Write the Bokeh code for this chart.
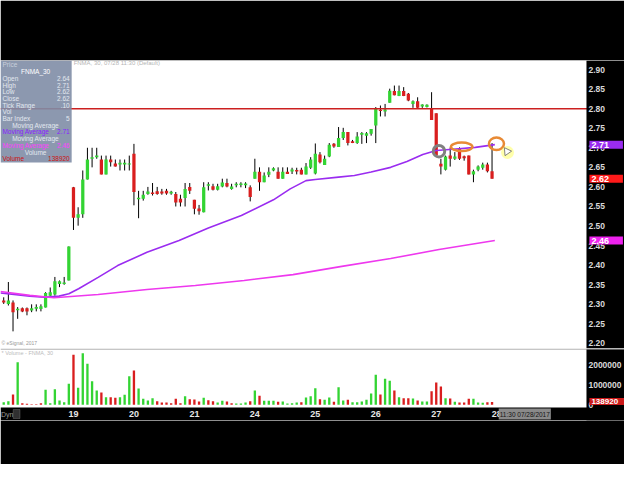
from bokeh.plotting import figure
from bokeh.layouts import column
from bokeh.models import Range1d, Span, Label, BoxAnnotation
from bokeh.embed import file_html
from bokeh.resources import INLINE

# ---------------- data (30-minute bars, FNMA) ----------------
bars = list(range(106))
opens = [2.310, 2.301, 2.305, 2.285, 2.290, 2.290, 2.284, 2.289, 2.288, 2.292,
         2.322, 2.325, 2.352, 2.352, 2.361, 2.599, 2.521, 2.530, 2.619, 2.672,
         2.677, 2.670, 2.632, 2.670, 2.660, 2.659, 2.659, 2.657, 2.685, 2.570,
         2.570, 2.582, 2.586, 2.589, 2.588, 2.590, 2.585, 2.582, 2.570, 2.572,
         2.600, 2.567, 2.545, 2.535, 2.603, 2.602, 2.593, 2.601, 2.610, 2.595,
         2.604, 2.605, 2.606, 2.599, 2.621, 2.639, 2.612, 2.631, 2.642, 2.639,
         2.621, 2.639, 2.641, 2.642, 2.644, 2.632, 2.649, 2.634, 2.683, 2.656,
         2.678, 2.710, 2.702, 2.725, 2.740, 2.715, 2.712, 2.735, 2.731, 2.736,
         2.757, 2.797, 2.794, 2.815, 2.845, 2.832, 2.845, 2.838, 2.812, 2.819,
         2.807, 2.804, 2.800, 2.788, 2.659, 2.644, 2.680, 2.672, 2.697, 2.677,
         2.680, 2.632, 2.644, 2.649, 2.657, 2.640]
highs = [2.318, 2.357, 2.310, 2.293, 2.292, 2.292, 2.300, 2.300, 2.300, 2.331,
         2.343, 2.370, 2.361, 2.370, 2.448, 2.600, 2.548, 2.642, 2.700, 2.700,
         2.700, 2.680, 2.680, 2.680, 2.670, 2.670, 2.670, 2.680, 2.710, 2.590,
         2.590, 2.600, 2.610, 2.600, 2.595, 2.595, 2.590, 2.587, 2.580, 2.610,
         2.610, 2.567, 2.554, 2.612, 2.612, 2.608, 2.608, 2.621, 2.621, 2.608,
         2.612, 2.612, 2.612, 2.604, 2.672, 2.650, 2.637, 2.650, 2.650, 2.650,
         2.650, 2.650, 2.649, 2.649, 2.649, 2.661, 2.676, 2.711, 2.689, 2.680,
         2.712, 2.712, 2.753, 2.751, 2.740, 2.720, 2.740, 2.740, 2.740, 2.748,
         2.804, 2.808, 2.812, 2.851, 2.859, 2.859, 2.855, 2.840, 2.821, 2.829,
         2.811, 2.811, 2.842, 2.788, 2.672, 2.680, 2.701, 2.689, 2.701, 2.680,
         2.680, 2.644, 2.655, 2.662, 2.662, 2.712]
lows = [2.301, 2.297, 2.231, 2.263, 2.280, 2.272, 2.280, 2.282, 2.282, 2.292,
        2.318, 2.322, 2.344, 2.350, 2.361, 2.490, 2.501, 2.521, 2.619, 2.650,
        2.672, 2.632, 2.632, 2.652, 2.652, 2.642, 2.642, 2.642, 2.553, 2.520,
        2.565, 2.580, 2.578, 2.580, 2.580, 2.580, 2.580, 2.550, 2.550, 2.550,
        2.582, 2.530, 2.529, 2.535, 2.591, 2.591, 2.591, 2.599, 2.599, 2.593,
        2.599, 2.599, 2.597, 2.563, 2.621, 2.590, 2.612, 2.625, 2.640, 2.621,
        2.621, 2.633, 2.633, 2.632, 2.632, 2.632, 2.646, 2.632, 2.660, 2.656,
        2.676, 2.700, 2.702, 2.720, 2.706, 2.712, 2.710, 2.710, 2.712, 2.731,
        2.712, 2.780, 2.780, 2.815, 2.834, 2.832, 2.832, 2.819, 2.802, 2.802,
        2.802, 2.803, 2.771, 2.678, 2.632, 2.642, 2.652, 2.669, 2.669, 2.667,
        2.632, 2.612, 2.640, 2.644, 2.637, 2.621]
closes = [2.305, 2.310, 2.280, 2.289, 2.282, 2.282, 2.290, 2.293, 2.295, 2.329,
          2.331, 2.359, 2.359, 2.356, 2.448, 2.521, 2.530, 2.619, 2.670, 2.676,
          2.679, 2.632, 2.670, 2.663, 2.652, 2.660, 2.660, 2.660, 2.587, 2.571,
          2.580, 2.588, 2.582, 2.582, 2.583, 2.583, 2.586, 2.560, 2.560, 2.595,
          2.590, 2.544, 2.538, 2.599, 2.607, 2.593, 2.602, 2.611, 2.601, 2.601,
          2.608, 2.609, 2.607, 2.574, 2.639, 2.612, 2.629, 2.639, 2.648, 2.621,
          2.639, 2.633, 2.643, 2.641, 2.632, 2.652, 2.670, 2.685, 2.663, 2.672,
          2.708, 2.703, 2.725, 2.740, 2.712, 2.714, 2.729, 2.736, 2.737, 2.748,
          2.800, 2.794, 2.796, 2.846, 2.834, 2.845, 2.832, 2.821, 2.819, 2.802,
          2.809, 2.810, 2.771, 2.680, 2.652, 2.678, 2.672, 2.678, 2.672, 2.675,
          2.632, 2.640, 2.652, 2.657, 2.640, 2.621]
volumes = [130000, 180000, 520000, 2130000, 80000, 50000, 30000, 30000, 80000, 750000,
           80000, 780000, 220000, 130000, 1050000, 2500000, 850000, 2580000, 2050000, 1180000,
           720000, 620000, 380000, 380000, 350000, 380000, 500000, 1430000, 1720000, 820000,
           300000, 220000, 330000, 180000, 120000, 120000, 80000, 300000, 80000, 430000,
           280000, 270000, 170000, 350000, 230000, 180000, 120000, 200000, 170000, 80000,
           70000, 70000, 120000, 180000, 720000, 450000, 200000, 200000, 200000, 150000,
           170000, 70000, 80000, 120000, 130000, 370000, 430000, 830000, 280000, 250000,
           370000, 150000, 880000, 220000, 250000, 130000, 130000, 170000, 250000, 570000,
           1500000, 520000, 1300000, 1200000, 720000, 380000, 330000, 330000, 320000, 220000,
           170000, 170000, 680000, 1120000, 920000, 330000, 320000, 150000, 120000, 120000,
           300000, 300000, 120000, 100000, 130000, 138920]
vol_up = [1, 1, 0, 1, 0, 0, 0, 0, 0, 1,
          1, 1, 1, 1, 1, 0, 1, 1, 1, 1,
          1, 0, 1, 0, 0, 1, 1, 1, 0, 1,
          1, 1, 1, 0, 0, 0, 0, 0, 0, 1,
          0, 0, 0, 1, 0, 0, 1, 1, 0, 0,
          1, 1, 1, 0, 1, 0, 1, 1, 1, 0,
          1, 1, 1, 1, 0, 1, 1, 1, 0, 1,
          1, 0, 1, 1, 0, 1, 1, 1, 1, 1,
          1, 0, 1, 1, 0, 1, 0, 0, 1, 0,
          1, 1, 0, 0, 0, 1, 0, 1, 0, 0,
          0, 1, 1, 1, 0, 0]

ma1_idx = [-0.7, 5.6, 8.7, 11.9, 14.0, 16.1, 20.3, 24.5, 30.8, 37.7, 44.0, 51.1, 58.0,
           61.6, 65.0, 67.0, 72.0, 75.4, 79.0, 83.2, 86.7, 90.1, 93.0, 97.2, 101.4, 105.6]
ma1_val = [2.329, 2.321, 2.318, 2.321, 2.327, 2.340, 2.369, 2.399, 2.433, 2.463, 2.495, 2.527, 2.567,
           2.595, 2.616, 2.619, 2.625, 2.629, 2.638, 2.650, 2.665, 2.683, 2.693, 2.697, 2.701, 2.708]
ma2_idx = [-0.7, 5.6, 10.8, 20.3, 30.8, 41.2, 51.7, 62.2, 72.7, 83.2, 93.6, 105.6]
ma2_val = [2.333, 2.323, 2.317, 2.325, 2.338, 2.348, 2.361, 2.376, 2.397, 2.417, 2.440, 2.463]

price_ticks = [2.20, 2.25, 2.30, 2.35, 2.40, 2.45, 2.50, 2.55, 2.60, 2.65, 2.70, 2.75, 2.80, 2.85, 2.90]
vol_ticks = [0, 1000000, 2000000]
day_ticks = [15, 28, 41, 54, 67, 80, 93, 106]
day_labels = ["19", "20", "21", "24", "25", "26", "27", "28"]
resistance = 2.80
bar_index_value = 5
tick_range_text = ".10"

FONT = "Liberation Sans"
GREEN = "#33d433"
RED = "#d91e1e"
PURPLE = "#9a2cf0"
MAGENTA = "#ee38ee"
AXIS_TXT = "#d9d9d9"

W = 624
SEP = 348          # reference row of the panel separator


# reference-pixel helpers (layout of annotations only)
def bx(px):
    return (px - 3.3) / 4.77


def py(px):
    return 2.90 - (px - 69) / 391.4


def pv(px):
    return (404.3 - px) / 20.0 * 1e6


x_range = Range1d(bx(0), bx(640))


def lab(fig, x, y, text, color, size="6.5px", align="left", bold=False, bg=None, pad=None):
    kw = dict(x=x, y=y, text=text, text_color=color, text_font=FONT, text_font_size=size,
              text_align=align, text_baseline="middle",
              text_font_style="bold" if bold else "normal")
    if bg is not None:
        kw["background_fill_color"] = bg
    if pad is not None:
        kw["padding"] = pad
    fig.add_layout(Label(**kw))


# ---------------- price panel ----------------
p = figure(width=W, height=SEP, x_range=x_range, y_range=Range1d(py(SEP), py(60)),
           output_backend="svg", toolbar_location=None,
           x_axis_location=None, y_axis_location=None,
           min_border_left=0, min_border_right=0, min_border_top=60, min_border_bottom=0,
           background_fill_color="white", border_fill_color="black")
p.outline_line_color = None
p.grid.visible = False

p.add_layout(Span(location=resistance, dimension="width", line_color="#cc2020", line_width=1.5))

body_top = [max(o, c) + 0.0015 if abs(o - c) < 0.003 else max(o, c) for o, c in zip(opens, closes)]
body_bot = [min(o, c) - 0.0015 if abs(o - c) < 0.003 else min(o, c) for o, c in zip(opens, closes)]
body_col = [GREEN if c >= o else RED for o, c in zip(opens, closes)]
p.segment(x0=bars, y0=lows, x1=bars, y1=highs, line_color="black", line_width=1)
p.vbar(x=bars, width=0.7, top=body_top, bottom=body_bot, fill_color=body_col, line_color=None)

p.line(ma1_idx, ma1_val, line_color=PURPLE, line_width=1.6)
p.line(ma2_idx, ma2_val, line_color=MAGENTA, line_width=1.6)

# hand-drawn marks
p.ellipse(x=[bx(449.7)], y=[py(150.7)], width=[11.5], height=[11.5],
          width_units="screen", height_units="screen",
          fill_color=None, line_color="#808080", line_width=3)
p.ellipse(x=[bx(473), bx(508.7)], y=[py(146.3), py(143.3)], width=[21.5, 15], height=[8.5, 12.5],
          width_units="screen", height_units="screen",
          fill_color=None, line_color="#e88a35", line_width=2.5)
p.scatter(x=[bx(520)], y=[py(152)], size=13, fill_color="#ffff88", fill_alpha=0.7, line_color=None)
p.scatter(x=[bx(519.5)], y=[py(151)], marker="triangle", size=8, angle=0.6,
          fill_color="white", line_color="#666666", line_width=0.8)

# black price-scale column on the right
p.add_layout(BoxAnnotation(left=bx(601), fill_color="black", fill_alpha=1.0, line_color=None))
for t in price_ticks:
    lab(p, bx(603), t, f"{t:.2f}", AXIS_TXT, size="8.5px", bold=True)

# data window box
p.add_layout(BoxAnnotation(left=bx(0), right=bx(73), top=py(60), bottom=py(162),
                           fill_color="#7f8da6", fill_alpha=0.9, line_color=None))

LT = "#e3e8f0"
lab(p, bx(2), py(63.5), "Price", "#c9d0dc")
lab(p, bx(36), py(71), "FNMA_30", "white", align="center")
rows = [("Open", f"{opens[-1]:.2f}", 78), ("High", f"{highs[-1]:.2f}", 84.5),
        ("Low", f"{lows[-1]:.2f}", 91), ("Close", f"{closes[-1]:.2f}", 98),
        ("Tick Range", tick_range_text, 104.5), ("Bar Index", str(bar_index_value), 118)]
for name, val, yy in rows:
    lab(p, bx(2), py(yy), name, LT)
    lab(p, bx(71), py(yy), val, LT, align="right")
lab(p, bx(2), py(111), "Vol", LT)
lab(p, bx(36), py(124.5), "Moving Average", LT, align="center")
lab(p, bx(2), py(131), "Moving Average", "#8a1cff")
lab(p, bx(71), py(131), f"{ma1_val[-1]:.2f}", "#8a1cff", align="right")
lab(p, bx(36), py(138), "Moving Average", LT, align="center")
lab(p, bx(2), py(145), "Moving Average", "#ff3cff")
lab(p, bx(71), py(145), f"{ma2_val[-1]:.2f}", "#ff3cff", align="right")
lab(p, bx(36), py(151.5), "Volume", LT, align="center")
lab(p, bx(2), py(158), "Volume", "#cc1010")
lab(p, bx(71), py(158), str(volumes[-1]), "#cc1010", align="right")

lab(p, bx(75), py(62.5), "FNMA, 30, 07/28 11:30 (Default)", "#b5b5b5", size="6px")
lab(p, bx(1), py(342), "\u00a9 eSignal, 2017", "#999999", size="5px")

# right-axis value tags
tag_pad = dict(left=2, right=14, top=1, bottom=1)
lab(p, bx(604), ma1_val[-1], f"{ma1_val[-1]:.2f}", "white", size="9px", bold=True, bg=PURPLE, pad=tag_pad)
lab(p, bx(604), closes[-1], f"{closes[-1]:.2f}", "white", size="9px", bold=True, bg="#ff1a1a", pad=tag_pad)
lab(p, bx(604), ma2_val[-1], f"{ma2_val[-1]:.2f}", "white", size="9px", bold=True, bg="#ee22ee", pad=tag_pad)

# ---------------- volume panel ----------------
v = figure(width=W, height=464 - SEP, x_range=x_range, y_range=Range1d(pv(420), pv(SEP)),
           output_backend="svg", toolbar_location=None,
           x_axis_location=None, y_axis_location=None,
           min_border_left=0, min_border_right=0, min_border_top=0,
           min_border_bottom=464 - 420,
           background_fill_color="white", border_fill_color="black")
v.outline_line_color = None
v.grid.visible = False

vcol = [GREEN if u else RED for u in vol_up]
v.vbar(x=bars, width=0.5, top=volumes, bottom=0, fill_color=vcol, line_color=None)

# black scale column and date strip
v.add_layout(BoxAnnotation(left=bx(601), fill_color="black", fill_alpha=1.0, line_color=None))
v.add_layout(BoxAnnotation(top=pv(407), fill_color="black", fill_alpha=1.0, line_color=None))
v.add_layout(Span(location=pv(SEP + 0.6), dimension="width", line_color="#a0a0a0", line_width=1))

for t in vol_ticks:
    lab(v, bx(603), t, str(t), AXIS_TXT, size="8.5px", bold=True)
for t, l in zip(day_ticks, day_labels):
    lab(v, t, pv(413.5), l, "#e6e6e6", size="9px", align="center", bold=True)

lab(v, bx(1), pv(352), "* Volume - FNMA, 30", "#bbbbbb", size="5.5px")
lab(v, bx(604), pv(401), str(volumes[-1]), "white", size="8px", bold=True, bg="#cc1a1a",
    pad=dict(left=2, right=6, top=1, bottom=1))
lab(v, bx(0.5), pv(413.5), "Dyn", "#9a9a9a", size="7px")
v.add_layout(BoxAnnotation(left=bx(13), right=bx(20), top=pv(409), bottom=pv(418),
                           fill_color="#303030", fill_alpha=1.0, line_color="#9a9a9a", line_width=1))
lab(v, bx(511), pv(413.5), "11:30 07/28/2017", "#151515", size="6.5px", bg="#8a8a8a",
    pad=dict(left=1, right=1, top=2, bottom=2))

layout = column(p, v, spacing=0)
open("out.html", "w").write(file_html(layout, INLINE))
